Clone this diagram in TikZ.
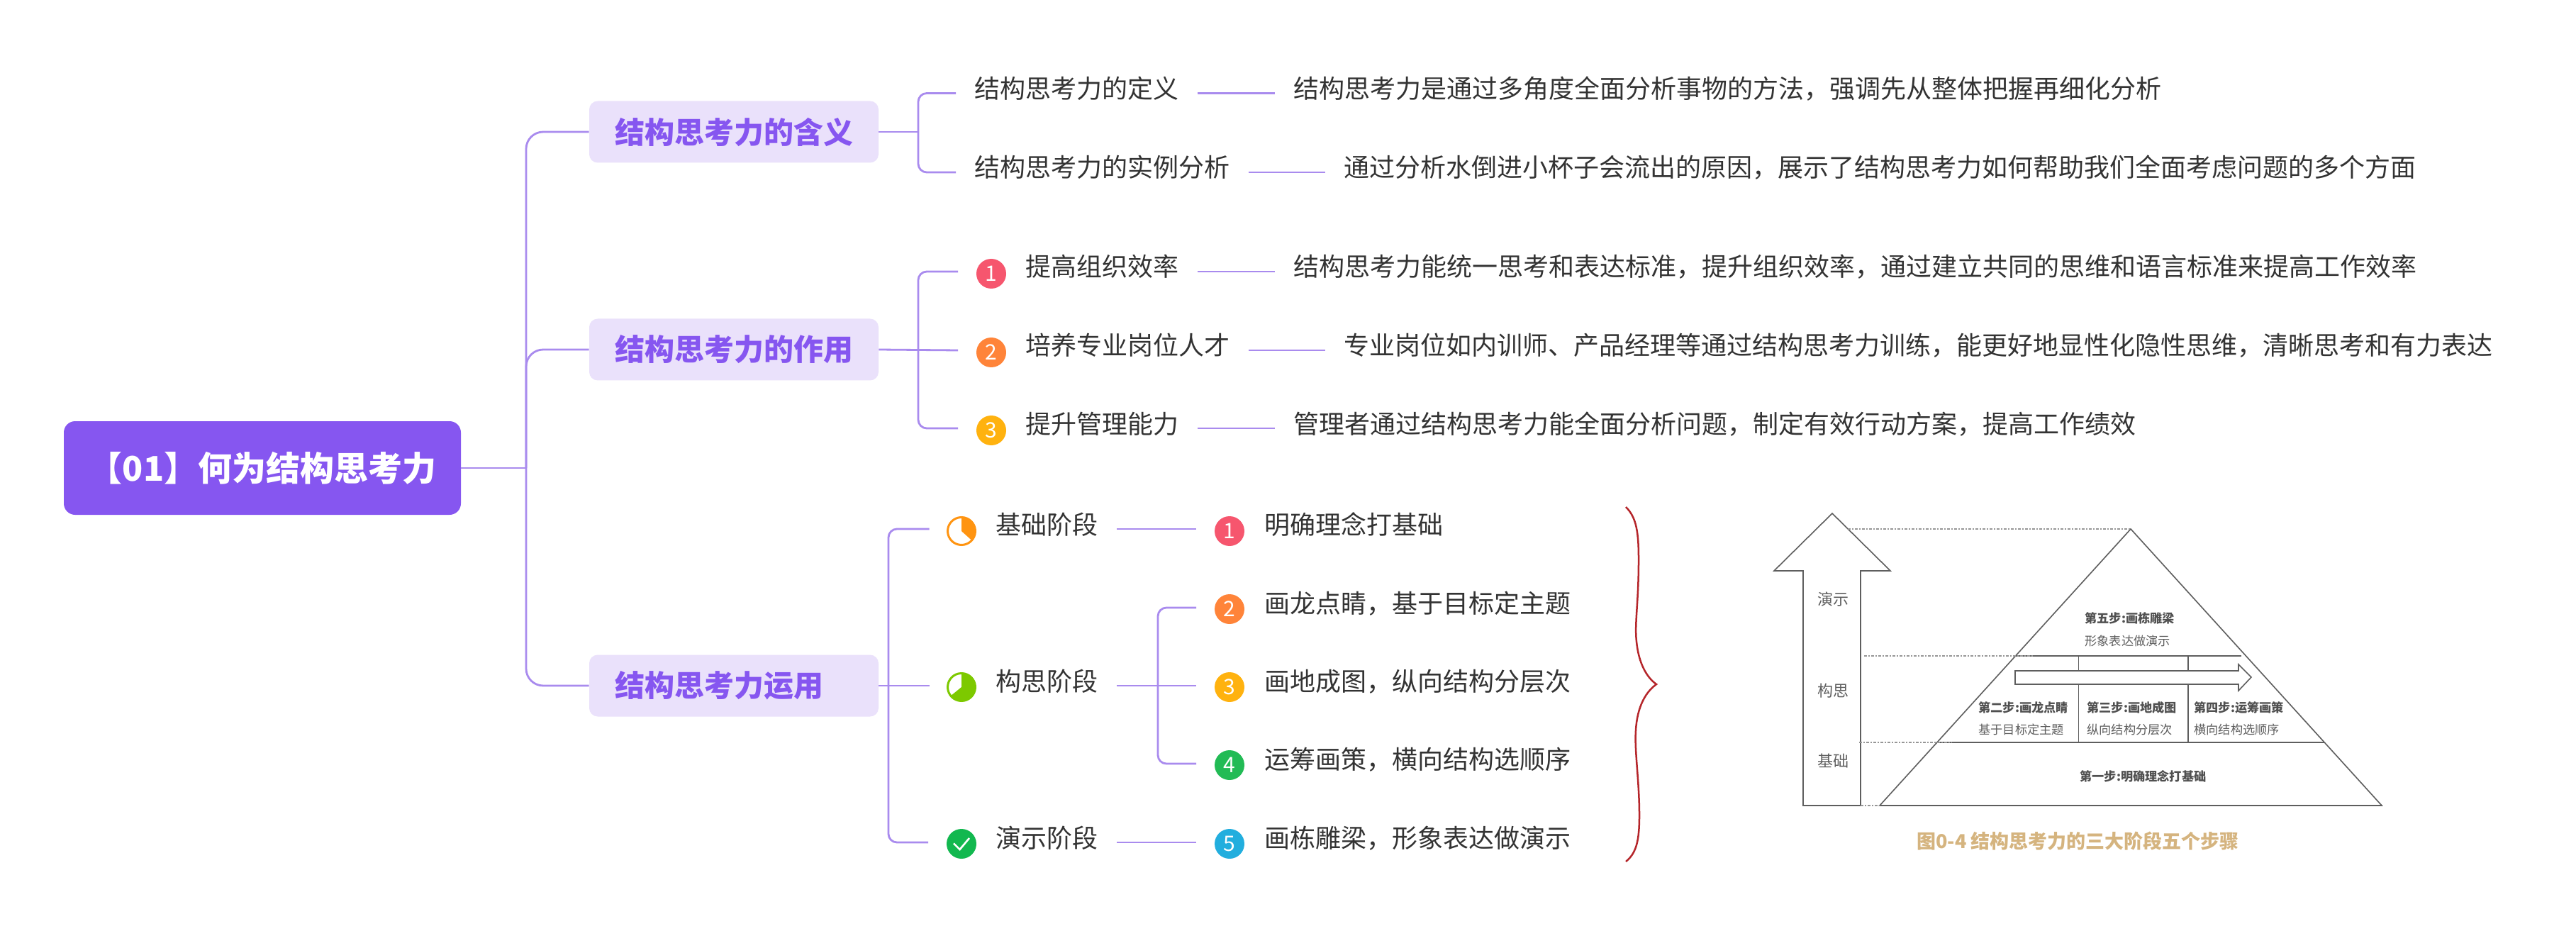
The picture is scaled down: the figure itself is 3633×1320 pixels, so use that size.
\documentclass[tikz,border=0pt]{standalone}
\usepackage{fontspec}
\setmainfont{Noto Sans CJK SC}
\definecolor{rootc}{HTML}{8656F0}
\definecolor{branchc}{HTML}{EAE1FB}
\definecolor{linec}{HTML}{A98BEE}
\definecolor{txt}{HTML}{333333}
\definecolor{bracec}{HTML}{B5252A}
\definecolor{pyr}{HTML}{5E5E5E}
\definecolor{capc}{HTML}{D5B47F}
\definecolor{nred}{HTML}{F6566E}
\definecolor{norange}{HTML}{FF8439}
\definecolor{nyellow}{HTML}{FFB20F}
\definecolor{ngreen}{HTML}{22BB55}
\definecolor{nblue}{HTML}{22AEDE}
\definecolor{iorange}{HTML}{FF9411}
\definecolor{ilime}{HTML}{7DC900}
\definecolor{igreen}{HTML}{12B84F}
\tikzset{
  rootnode/.style={draw=none,fill=rootc,text=white,rounded corners=8pt,minimum width=280pt,minimum height=66pt,inner sep=0pt,font=\fontsize{24pt}{28pt}\selectfont\bfseries},
  branch/.style={draw=none,fill=branchc,text=rootc,rounded corners=6pt,text width=168pt,align=left,inner xsep=18pt,inner ysep=0pt,minimum height=43.5pt,font=\fontsize{21pt}{25pt}\selectfont\bfseries},
  rowtext/.style={anchor=west,inner xsep=13pt,inner ysep=0pt,text height=16pt,text depth=9pt,text=txt,font=\fontsize{18pt}{22pt}\selectfont},
  numdot/.style={circle,fill=#1,text=white,minimum size=21pt,inner sep=0pt,outer sep=13pt,font=\fontsize{15pt}{17pt}\selectfont},
  ringdot/.style={circle,draw=#1,fill=white,line width=1.5pt,minimum size=19.5pt,inner sep=0pt,outer sep=13pt},
  conn/.style={draw=linec,line width=1.4pt},
  trunk/.style={conn,rounded corners=12pt},
  fork/.style={conn,rounded corners=6pt},
  pyrline/.style={draw=pyr,line width=.8pt},
  pyrdash/.style={draw=pyr!65,line width=.7pt,dash pattern=on 2pt off 1.2pt on .6pt off 1.2pt},
  pyrbold/.style={text=pyr!85!black,inner sep=0pt,font=\fontsize{8.6pt}{10pt}\selectfont\bfseries},
  pyrtext/.style={text=pyr,inner sep=0pt,font=\fontsize{8.6pt}{10pt}\selectfont},
  pyrside/.style={text=pyr,inner sep=0pt,font=\fontsize{11pt}{13pt}\selectfont},
}
\begin{document}
\begin{tikzpicture}[x=0.5pt,y=-0.5pt]
\useasboundingbox[fill=white] (0,0) rectangle (3633,1320);
% main nodes
\node[rootnode] (root) at (370,660) {【01】何为结构思考力};
\node[branch] (b1) at (1035,186) {结构思考力的含义};
\node[branch] (b2) at (1035,493) {结构思考力的作用};
\node[branch] (b3) at (1035,967) {结构思考力运用};
\coordinate (tr) at (742,660);
\coordinate (j1) at (1295,186);
\coordinate (j2) at (1295,493);
\coordinate (j3) at (1253,967);
\coordinate (j4) at (1633,967);
% group 1
\node[rowtext] (a1) at (1348,131.5) {结构思考力的定义};
\node[rowtext] (a1d) at (1798,131.5) {结构思考力是通过多角度全面分析事物的方法，强调先从整体把握再细化分析};
\node[rowtext] (a2) at (1348,243) {结构思考力的实例分析};
\node[rowtext] (a2d) at (1869,243) {通过分析水倒进小杯子会流出的原因，展示了结构思考力如何帮助我们全面考虑问题的多个方面};
% group 2
\node[numdot=nred] (p1) at (1398,386) {1};
\node[numdot=norange] (p2) at (1398,497) {2};
\node[numdot=nyellow] (p3) at (1398,607) {3};
\node[rowtext] (e1) at (1420,383) {提高组织效率};
\node[rowtext] (e2) at (1420,494) {培养专业岗位人才};
\node[rowtext] (e3) at (1420,604) {提升管理能力};
\node[rowtext] (e1d) at (1798,383) {结构思考力能统一思考和表达标准，提升组织效率，通过建立共同的思维和语言标准来提高工作效率};
\node[rowtext] (e2d) at (1869,494) {专业岗位如内训师、产品经理等通过结构思考力训练，能更好地显性化隐性思维，清晰思考和有力表达};
\node[rowtext] (e3d) at (1798,604) {管理者通过结构思考力能全面分析问题，制定有效行动方案，提高工作绩效};
% group 3
\node[ringdot=iorange] (c1) at (1356,749) {};
\node[ringdot=ilime] (c2) at (1356,969) {};
\node[circle,fill=igreen,minimum size=21pt,inner sep=0pt,outer sep=13pt] (c3) at (1356,1190) {};
\fill[iorange] (c1.center) -- ++(90:9.75pt) arc[start angle=90,end angle=-42,radius=9.75pt] -- cycle;
\fill[ilime] (c2.center) -- ++(90:9.75pt) arc[start angle=90,end angle=-141,radius=9.75pt] -- cycle;
\draw[white,line width=1.3pt] ([shift={(-5.5pt,.3pt)}]c3.center) -- ([shift={(-1.2pt,-4pt)}]c3.center) -- ([shift={(5.5pt,4pt)}]c3.center);
\node[rowtext] (s1) at (1378,746) {基础阶段};
\node[rowtext] (s2) at (1378,967) {构思阶段};
\node[rowtext] (s3) at (1378,1188) {演示阶段};
\node[numdot=nred] (n1) at (1734,749) {1};
\node[numdot=norange] (n2) at (1734,859) {2};
\node[numdot=nyellow] (n3) at (1734,969) {3};
\node[numdot=ngreen] (n4) at (1734,1079) {4};
\node[numdot=nblue] (n5) at (1734,1190) {5};
\node[rowtext] (m1) at (1757,746) {明确理念打基础};
\node[rowtext] (m2) at (1757,857) {画龙点睛，基于目标定主题};
\node[rowtext] (m3) at (1757,967) {画地成图，纵向结构分层次};
\node[rowtext] (m4) at (1757,1077) {运筹画策，横向结构选顺序};
\node[rowtext] (m5) at (1757,1188) {画栋雕梁，形象表达做演示};
% connectors
\draw[trunk] (b1.west) -| (tr) |- (b3.west);
\draw[trunk] (b2.west) -| (tr);
\draw[conn] (root.east) -- (tr);
\draw[conn] (b1.east) -- (j1);
\draw[fork] (a1.west) -| (j1) |- (a2.west);
\draw[conn] (a1.east) -- (a1d.west);
\draw[conn] (a2.east) -- (a2d.west);
\draw[conn] (b2.east) -- ([yshift=1.5pt]p2.west);
\draw[fork] ([yshift=1.5pt]p1.west) -| (j2) |- ([yshift=1.5pt]p3.west);
\draw[conn] (e1.east) -- (e1d.west);
\draw[conn] (e2.east) -- (e2d.west);
\draw[conn] (e3.east) -- (e3d.west);
\draw[conn] (b3.east) -- ([yshift=1pt]c2.west);
\draw[fork] ([yshift=1.5pt]c1.west) -| (j3) |- ([yshift=1pt]c3.west);
\draw[conn] (s1.east) -- ([yshift=1.5pt]n1.west);
\draw[conn] (s2.east) -- ([yshift=1pt]n3.west);
\draw[conn] (s3.east) -- ([yshift=1pt]n5.west);
\draw[fork] ([yshift=1pt]n2.west) -| (j4) |- ([yshift=1pt]n4.west);
% brace
\draw[bracec,line width=1.25pt] (2293,715) .. controls (2308,730) and (2311,750) .. (2311,790)
  .. controls (2311,850) and (2305,880) .. (2308,905)
  .. controls (2311,935) and (2322,955) .. (2336,965)
  .. controls (2322,975) and (2309,995) .. (2307,1030)
  .. controls (2305,1060) and (2312,1100) .. (2312,1150)
  .. controls (2312,1185) and (2308,1203) .. (2293,1215);
% pyramid figure
\draw[pyrline] (2543,1136) -- (2543,805) -- (2502,805) -- (2584,724) -- (2666,805) -- (2624,805) -- (2624,1136) -- cycle;
\draw[pyrline] (3005,746) -- (2651,1136) -- (3359,1136) -- cycle;
\draw[pyrline] (2733,1047) -- (3278,1047);
\draw[pyrline] (2840,925) -- (3161,925);
\draw[pyrline] (2931.5,925) -- (2931.5,946) (2931.5,965) -- (2931.5,1047);
\draw[pyrline] (3086,925) -- (3086,946) (3086,965) -- (3086,1047);
\draw[pyrline] (2842,946) -- (3157,946) -- (3157,937) -- (3175,955) -- (3157,974) -- (3157,965) -- (2842,965) -- cycle;
\draw[pyrdash] (2606,746) -- (3005,746);
\draw[pyrdash] (2629,925) -- (2868,925);
\draw[pyrdash] (2622,1047) -- (2753,1047);
\draw[pyrdash] (2624,1136) -- (2651,1136);
\node[pyrside] (l1) at (2585,845) {演示};
\node[pyrside] (l2) at (2585,974) {构思};
\node[pyrside] (l3) at (2585,1073) {基础};
\node[pyrbold,anchor=west] (h5) at (2940,872) {第五步:画栋雕梁};
\node[pyrtext,anchor=west] (d5) at (2940,904) {形象表达做演示};
\node[pyrbold,anchor=west] (h2) at (2790,998) {第二步:画龙点睛};
\node[pyrtext,anchor=west] (d2) at (2790,1029) {基于目标定主题};
\node[pyrbold,anchor=west] (h3) at (2943,998) {第三步:画地成图};
\node[pyrtext,anchor=west] (d3) at (2943,1029) {纵向结构分层次};
\node[pyrbold,anchor=west] (h4) at (3094,998) {第四步:运筹画策};
\node[pyrtext,anchor=west] (d4) at (3094,1029) {横向结构选顺序};
\node[pyrbold,anchor=west] (h1) at (2933,1095) {第一步:明确理念打基础};
\node[text=capc,inner sep=0pt,anchor=west,font=\fontsize{13.5pt}{16pt}\selectfont\bfseries] (cap) at (2703,1186) {图0-4 结构思考力的三大阶段五个步骤};
\end{tikzpicture}
\end{document}
